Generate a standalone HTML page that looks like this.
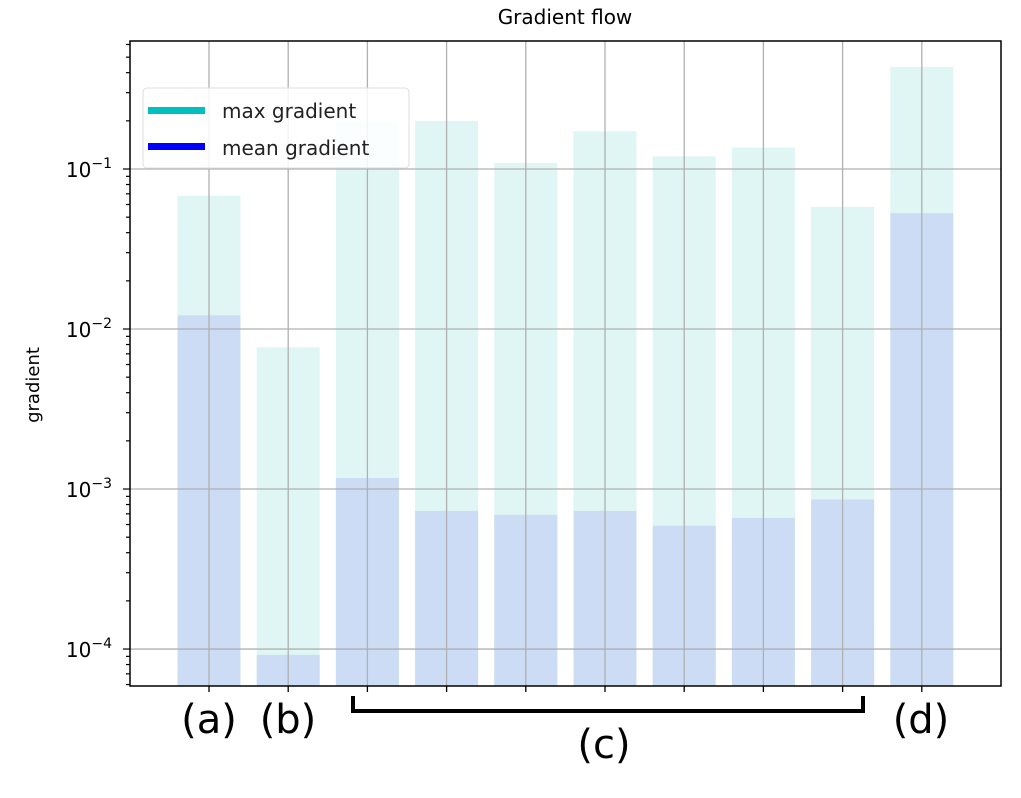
<!DOCTYPE html>
<html><head><meta charset="utf-8"><style>
body{margin:0;background:#fff}
svg text{font-family:"DejaVu Sans","Liberation Sans",sans-serif}
</style></head><body>
<svg id="chart" width="1021" height="793" xmlns="http://www.w3.org/2000/svg">
<text x="565" y="24" style="font-size:20px" text-anchor="middle">Gradient flow</text>
<text x="0" y="0" style="font-size:18px" text-anchor="middle" transform="translate(39,385) rotate(-90)">gradient</text>
<g id="bars"></g>
<g id="grid"></g>
<g id="axes"></g>
<g>
<rect x="143" y="88" width="266" height="80" rx="4" fill="#fff" fill-opacity="0.85" stroke="#ddd"/>
<rect x="148" y="107" width="57" height="7" fill="#00bfbf"/>
<text x="222" y="118" style="font-size:20px" fill="#222">max gradient</text>
<rect x="148" y="143" width="57" height="7" fill="#0000ff"/>
<text x="222" y="155" style="font-size:20px" fill="#222">mean gradient</text>
</g>
<path d="M353,696 V711 H863 V696" fill="none" stroke="#000" stroke-width="4"/>
<text x="209" y="733" style="font-size:40px" text-anchor="middle">(a)</text>
<text x="288" y="733" style="font-size:40px" text-anchor="middle">(b)</text>
<text x="604" y="758" style="font-size:40px" text-anchor="middle">(c)</text>
<text x="921" y="733" style="font-size:40px" text-anchor="middle">(d)</text>
</svg>
<script>
const layers = ["a","b","c1","c2","c3","c4","c5","c6","c7","d"];
const maxGrad = [0.068,0.0077,0.2,0.2,0.109,0.172,0.12,0.136,0.058,0.434];
const meanGrad = [0.0122,0.000092,0.00117,0.00073,0.00069,0.00073,0.00059,0.00066,0.00086,0.053];
const yTickExps = [-4,-3,-2,-1];
const NS="http://www.w3.org/2000/svg";
const L=130,R=1001,T=41,B=686;
const x=i=>209+i*79.2;
const lmin=-4.231,lmax=-0.2;
const y=v=>B-(Math.log10(v)-lmin)/(lmax-lmin)*(B-T);
function mk(tag,attrs,parent){const e=document.createElementNS(NS,tag);for(const k in attrs)e.setAttribute(k,attrs[k]);parent.appendChild(e);return e;}
const bars=document.getElementById('bars'),grid=document.getElementById('grid'),axes=document.getElementById('axes');
layers.forEach((n,i)=>{
 const bw=63;
 const m=mk('rect',{x:x(i)-bw/2,y:y(maxGrad[i]),width:bw,height:B-y(maxGrad[i]),fill:'#e0f6f4'},bars);
 
 
 const a=mk('rect',{x:x(i)-bw/2,y:y(meanGrad[i]),width:bw,height:B-y(meanGrad[i]),fill:'#ccdcf5'},bars);
 
 
 const g=mk('line',{x1:x(i),x2:x(i),y1:T,y2:B,stroke:'#b0b0b0','stroke-width':1.3},grid);
 
 
 const t=mk('line',{x1:x(i),x2:x(i),y1:B,y2:B+6,stroke:'#000','stroke-width':1.3},axes);
 
 
});
yTickExps.forEach(e=>{
 const yy=y(Math.pow(10,e));
 const g=mk('line',{x1:L,x2:R,y1:yy,y2:yy,stroke:'#b0b0b0','stroke-width':1.3},grid);
 
 
 const t=mk('text',{x:112,y:yy+8,style:'font-size:20px','text-anchor':'end'},axes);
 
 
 t.innerHTML='10<tspan dy="-9" style="font-size:14px">−'+(-e)+'</tspan>';
});
for(let e=-5;e<=0;e++)for(let k=1;k<10;k++){
 const v=k*Math.pow(10,e);const yy=y(v);
 if(yy<T-0.5||yy>B+0.5)continue;
 const tk=mk('line',{x1:L-(k===1?7:4),x2:L,y1:yy,y2:yy,stroke:'#000','stroke-width':1.2},axes);
 
 
}
const f=mk('rect',{x:L,y:T,width:R-L,height:B-T,fill:'none',stroke:'#000','stroke-width':1.5},axes);


</script>
</body></html>
